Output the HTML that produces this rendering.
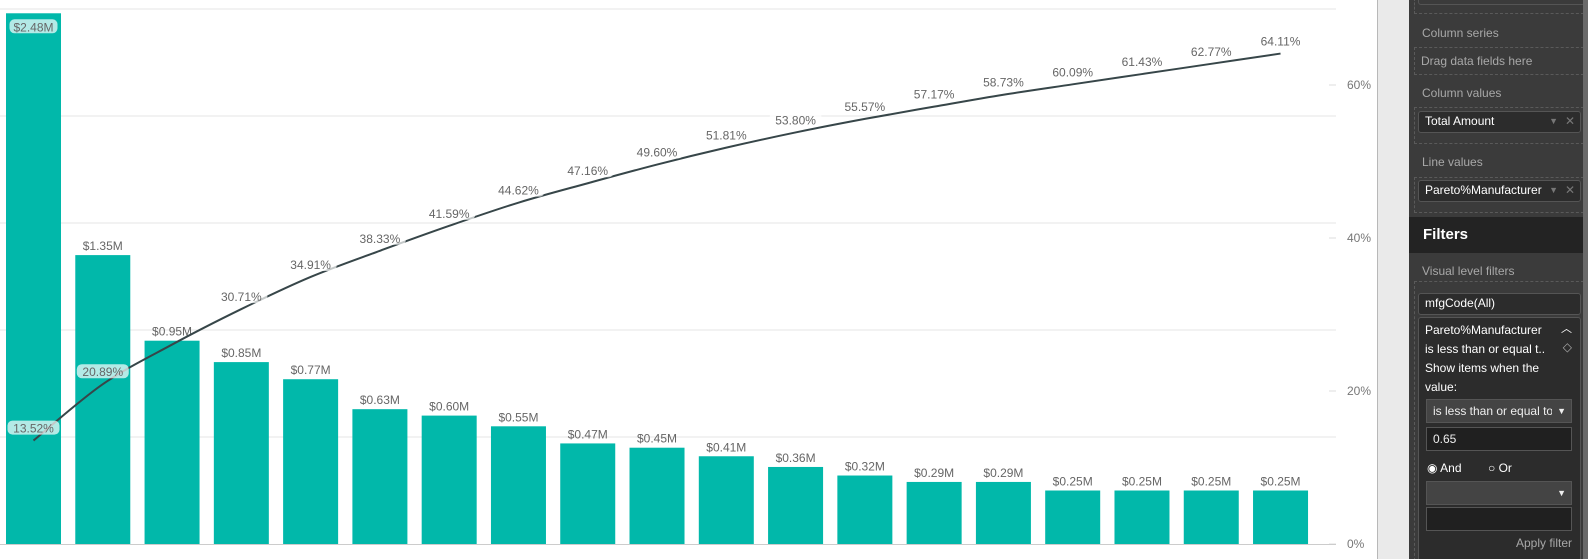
<!DOCTYPE html>
<html><head><meta charset="utf-8"><style>
html,body{margin:0;width:1588px;height:559px;overflow:hidden}
body{background:#fff;font-family:"Liberation Sans",sans-serif;position:relative}
#chart{position:absolute;left:0;top:0}
.strip{position:absolute;left:1377px;top:0;width:32px;height:559px;background:#eaeaea;border-left:1px solid #b8b8b8;box-sizing:border-box}
.panel{position:absolute;left:1409px;top:0;width:179px;height:559px;background:#3b3b3b;color:#ddd;font-size:12px;overflow:hidden}
.scroll{position:absolute;left:1583px;top:0;width:5px;height:559px;background:#6a6a6a}
.lbl{position:absolute;left:13px;color:#a8a8a8;font-size:12px}
.dash{position:absolute;left:5px;width:175px;border:1px dashed #5a5a5a;box-sizing:border-box}
.box{position:absolute;left:9px;width:163px;background:#2c2c2c;border:1px solid #555;border-radius:3px;box-sizing:border-box;color:#fff;padding-left:6px;line-height:19px;font-size:12px}
.ctl{position:absolute;left:17px;width:146px;box-sizing:border-box;border:1px solid #555;padding-left:6px;font-size:12px;color:#eee;overflow:hidden;white-space:nowrap}
</style></head><body>
<svg id="chart" width="1377" height="559"></svg>
<div class="strip"></div>
<div class="panel">
 <div class="dash" style="top:-2px;height:16px"><div style="position:absolute;left:3px;right:3px;top:0;height:5px;border:1px solid #555;border-top:none;border-radius:0 0 3px 3px"></div></div>
 <div class="lbl" style="top:26px">Column series</div>
 <div class="dash" style="top:47px;height:28px"><span style="position:absolute;left:6px;top:6px;color:#a8a8a8">Drag data fields here</span></div>
 <div class="lbl" style="top:86px">Column values</div>
 <div class="dash" style="top:107px;height:37px"></div>
 <div class="box" style="top:111px;height:22px">Total Amount<span style="position:absolute;right:22px;color:#777;font-size:9px">▼</span><span style="position:absolute;right:5px;color:#777">✕</span></div>
 <div class="lbl" style="top:155px">Line values</div>
 <div class="dash" style="top:177px;height:36px"></div>
 <div class="box" style="top:180px;height:22px">Pareto%Manufacturer<span style="position:absolute;right:22px;color:#777;font-size:9px">▼</span><span style="position:absolute;right:5px;color:#777">✕</span></div>
 <div style="position:absolute;left:0;top:217px;width:179px;height:36px;background:#232323;color:#fff;font-weight:bold;font-size:15px;line-height:36px;padding-left:14px;box-sizing:border-box">Filters</div>
 <div class="lbl" style="top:264px">Visual level filters</div>
 <div class="dash" style="top:281px;height:290px"></div>
 <div class="box" style="top:293px;height:22px">mfgCode(All)</div>
 <div class="box" style="top:317px;height:250px">
  <div style="position:absolute;top:3px;left:6px;line-height:19px">Pareto%Manufacturer<br>is less than or equal t..<br>Show items when the<br>value:</div>
  <span style="position:absolute;right:8px;top:2px;font-size:11px">︿</span>
  <span style="position:absolute;right:8px;top:20px;color:#aaa">◇</span>
 </div>
 <div class="ctl" style="top:399px;height:24px;line-height:22px;background:#444">is less than or equal to<span style="position:absolute;right:0;padding:0 5px;font-size:9px;background:#444">▼</span></div>
 <div class="ctl" style="top:427px;height:24px;line-height:22px;background:#202020">0.65</div>
 <div style="position:absolute;left:18px;top:461px;font-size:12px;color:#fff">◉ And</div>
 <div style="position:absolute;left:79px;top:461px;font-size:12px;color:#fff">○ Or</div>
 <div class="ctl" style="top:481px;height:24px;line-height:22px;background:#444"><span style="position:absolute;right:5px;font-size:9px">▼</span></div>
 <div class="ctl" style="top:507px;height:24px;background:#202020"></div>
 <div style="position:absolute;right:16px;top:536px;color:#a8a8a8">Apply filter</div>
</div>
<div class="scroll"></div>
<script>
const amounts=[2.48,1.35,0.95,0.85,0.77,0.63,0.60,0.55,0.47,0.45,0.41,0.36,0.32,0.29,0.29,0.25,0.25,0.25,0.25];
const pareto=[13.52,20.89,26.07,30.71,34.91,38.33,41.59,44.62,47.16,49.60,51.81,53.80,55.57,57.17,58.73,60.09,61.43,62.77,64.11];
const hiddenLineLabels=[2];
const rightTicks=[0,20,40,60];
const leftGrid=[0,0.5,1,1.5,2,2.5];
const NS="http://www.w3.org/2000/svg";
const svg=document.getElementById('chart');
const base=544;
const yL=v=>base-v*214;
const yR=p=>base-p*7.65;
const step=69.28, bw=55, x0=6;
const xC=i=>x0+i*step+bw/2;
function mk(t,a){const e=document.createElementNS(NS,t);for(const k in a)e.setAttribute(k,a[k]);svg.appendChild(e);return e;}
leftGrid.forEach(v=>{if(v===0)return;const g=mk('line',{x1:0,x2:1336,y1:yL(v),y2:yL(v),stroke:'#e6e6e6','stroke-width':1});

});
rightTicks.forEach(p=>{const t=mk('line',{x1:1329,x2:1336,y1:yR(p),y2:yR(p),stroke:'#ddd'});


const l=mk('text',{x:1347,y:yR(p)+4,'font-size':12,fill:'#777'});l.textContent=p+'%';

});
mk('line',{x1:0,x2:1336,y1:base+0.5,y2:base+0.5,stroke:'#ccc'});
amounts.forEach((v,i)=>{const r=mk('rect',{x:x0+i*step,y:yL(v),width:bw,height:base-yL(v),fill:'#01b8aa'});


const txt='$'+v.toFixed(2)+'M';let ty=yL(v)-9;
if(ty<20){ty=yL(v)+14;mk('rect',{x:xC(i)-24,y:ty-8,width:48,height:14,rx:5,fill:'rgba(255,255,255,0.7)'});}
const t=mk('text',{x:xC(i),y:ty+4,'text-anchor':'middle','font-size':12,fill:'#666'});t.textContent=txt;

});
const pts=pareto.map((p,i)=>[xC(i),yR(p)]);
let d='M'+pts[0][0]+','+pts[0][1];
for(let i=0;i<pts.length-1;i++){const p0=pts[Math.max(0,i-1)],p1=pts[i],p2=pts[i+1],p3=pts[Math.min(pts.length-1,i+2)];
const c1=[p1[0]+(p2[0]-p0[0])/6,p1[1]+(p2[1]-p0[1])/6],c2=[p2[0]-(p3[0]-p1[0])/6,p2[1]-(p3[1]-p1[1])/6];
d+=' C'+c1+' '+c2+' '+p2;}
const ln=mk('path',{d:d,fill:'none',stroke:'#374649','stroke-width':2});


pareto.forEach((p,i)=>{if(hiddenLineLabels.includes(i))return;const y=yR(p)-12;
mk('rect',{x:xC(i)-26,y:y-8,width:52,height:14,rx:5,fill:'rgba(255,255,255,0.7)'});
const t=mk('text',{x:xC(i),y:y+4,'text-anchor':'middle','font-size':12,fill:'#666'});t.textContent=p.toFixed(2)+'%';

});
</script>
</body></html>
